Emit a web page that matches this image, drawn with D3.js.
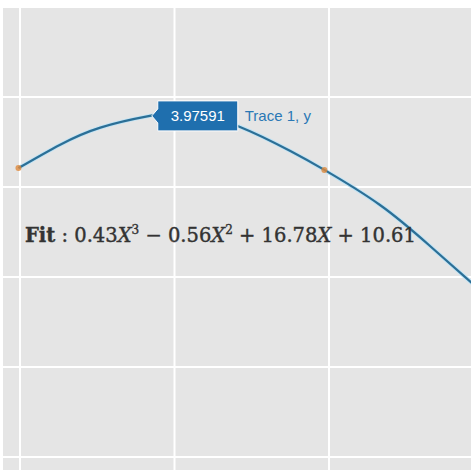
<!DOCTYPE html><html><head><script src="https://cdn.jsdelivr.net/npm/d3@7"></script>
<style>body{margin:0;background:#fff}</style></head><body><svg id="c" width="474" height="474"></svg>
<script>
const xTicks=[1,2,3];
const yTicks=[4,3,2,1,0];
const fitX=[0.99,1.26,1.52,1.84,2.10,2.42,2.75,2.97,3.33,3.65,3.94];
const fitY=[3.21,3.47,3.66,3.79,3.82,3.67,3.40,3.19,2.80,2.35,1.91];
const ptX=[0.99,2.97];
const ptY=[3.21,3.19];
const hoverX=1.84, hoverY=3.79, hoverLabel="3.97591", traceName="Trace 1, y";
const svg=d3.select("#c");
const L=3,R=471,T=8,B=470;
const x=d3.scaleLinear().domain([1,3]).range([20,329]);
const y=d3.scaleLinear().domain([4,0]).range([97,457]);
svg.append("rect").attr("x",L).attr("y",T).attr("width",R-L).attr("height",B-T).attr("fill","#e5e5e5");
const g=svg.append("g");
g.selectAll(".vx").data(xTicks).join("line").attr("x1",d=>x(d)).attr("x2",d=>x(d)).attr("y1",T).attr("y2",B).attr("stroke","#fff").attr("stroke-width",2);
g.selectAll(".hy").data(yTicks).join("line").attr("y1",d=>y(d)).attr("y2",d=>y(d)).attr("x1",L).attr("x2",R).attr("stroke","#fff").attr("stroke-width",2);
svg.append("clipPath").attr("id","cp").append("rect").attr("x",L).attr("y",T).attr("width",R-L).attr("height",B-T);
const line=d3.line().x((d,i)=>x(fitX[i])).y((d,i)=>y(fitY[i])).curve(d3.curveNatural);
const pg=svg.append("g").attr("clip-path","url(#cp)");
pg.append("path").attr("d",line(fitX)).attr("fill","none").attr("stroke","#bfe3f5").attr("stroke-width",4);
pg.append("path").attr("d",line(fitX)).attr("fill","none").attr("stroke","#2c6f96").attr("stroke-width",2.2);
pg.selectAll("circle").data(ptX).join("circle").attr("cx",d=>x(d)).attr("cy",(d,i)=>y(ptY[i])).attr("r",3).attr("fill","#e08a3c").attr("opacity",0.8);
const hx=x(hoverX)+2, hy=y(hoverY);
svg.append("path").attr("d",`M${hx},${hy} l6,-7 v-8 h80 v30 h-80 v-8 z`).attr("fill","#1f6fae").attr("stroke","#fff").attr("stroke-width",1);
svg.append("text").attr("x",hx+46).attr("y",hy+5).attr("text-anchor","middle").attr("fill","#fff").attr("font-family","Liberation Sans, Arial").attr("font-size",15).text(hoverLabel);
svg.append("text").attr("x",hx+93).attr("y",hy+5).attr("fill","#2a78b5").attr("font-family","Liberation Sans, Arial").attr("font-size",15).text(traceName);
const t=svg.append("text").attr("x",25).attr("y",242).attr("font-family","DejaVu Serif, Liberation Serif, serif").attr("font-size",19.5).attr("fill","#333").attr("stroke","#333").attr("stroke-width",0.4);
t.append("tspan").attr("font-weight","bold").text("Fit");
t.append("tspan").text(" : 0.43");
t.append("tspan").attr("font-style","italic").text("X");
t.append("tspan").attr("dy",-8).attr("font-size",12).text("3");
t.append("tspan").attr("dy",8).text(" − 0.56");
t.append("tspan").attr("font-style","italic").text("X");
t.append("tspan").attr("dy",-8).attr("font-size",12).text("2");
t.append("tspan").attr("dy",8).text(" + 16.78");
t.append("tspan").attr("font-style","italic").text("X");
t.append("tspan").text(" + 10.61");
</script></body></html>
